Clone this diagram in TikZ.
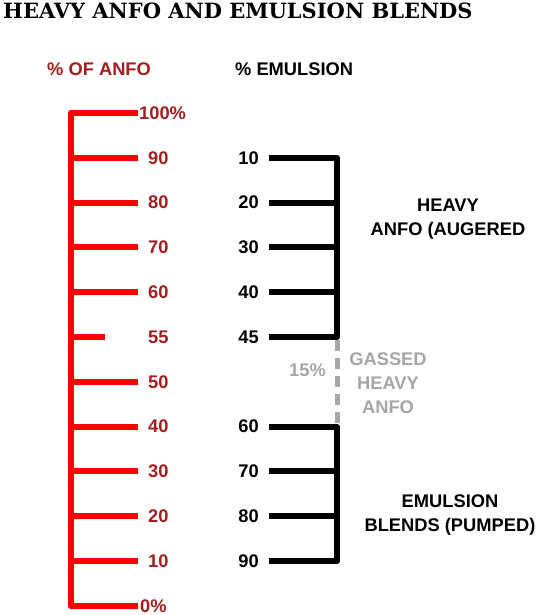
\documentclass[tikz,border=0pt]{standalone}
\usepackage{fontspec}
\setmainfont{Liberation Sans}
\newfontfamily\titlefont{DejaVu Serif}
\usepackage{xcolor}
\usetikzlibrary{positioning, calc}
\definecolor{scalered}{rgb}{1, 0, 0}
\definecolor{labelred}{rgb}{0.63, 0.12, 0.12}
\definecolor{gassedgray}{rgb}{0.65, 0.65, 0.65}
\tikzset{
  scaletext/.style={inner sep=0pt, font=\fontsize{18.3}{24}\selectfont\bfseries},
  anfotext/.style={scaletext, text=labelred},
  emultext/.style={scaletext, text=black},
  gastext/.style={scaletext, text=gassedgray},
  redbar/.style={draw=scalered, line width=6pt, line join=round},
  blackbar/.style={draw=black, line width=6pt, line join=round},
  gasbar/.style={draw=gassedgray, line width=5pt, dash pattern=on 11pt off 7pt}
}

\begin{document}
\begin{tikzpicture}[x=1pt, y=-1pt]
\useasboundingbox (0,0) rectangle (542,615);
\pgfmathsetmacro{\redx}{70.5}
\pgfmathsetmacro{\redend}{137.5}
\pgfmathsetmacro{\blackx}{337}
\pgfmathsetmacro{\blackend}{269}
\pgfmathsetmacro{\tickgap}{44.8}
\pgfmathsetmacro{\ytop}{113}

\node[inner sep=0pt, anchor=west, font=\titlefont\fontsize{21}{22}\selectfont\bfseries] (title) at (3,11) {HEAVY ANFO AND EMULSION BLENDS};
\node[anfotext, anchor=west] (anfohead) at (47,69) {\% OF ANFO};
\node[emultext, anchor=west] (emulhead) at (235,69) {\% EMULSION};

%% red scale, one tick per step
\foreach \i in {0,...,11} {
  \coordinate (r\i) at (\redx, \ytop+\tickgap*\i);
  \coordinate (rt\i) at (\redend, \ytop+\tickgap*\i);
}
\draw[redbar] (rt0) -- (r0) -- (r11) -- (rt11);
\foreach \i in {1,2,3,4,6,7,8,9,10} {
  \draw[redbar] (r\i) -- (rt\i);
}
\draw[redbar] (r5) -- ++(34,0);

\node[anfotext, anchor=west] (anfo100) at ($(rt0)+(1.5,0)$) {100\%};
\foreach \i/\v in {1/90,2/80,3/70,4/60,5/55,6/50,7/40,8/30,9/20,10/10} {
  \node[anfotext, anchor=west] (anfo\v) at ($(rt\i)+(10.5,0)$) {\v};
}
\node[anfotext, anchor=west] (anfo0) at ($(rt11)+(2.5,0)$) {0\%};

%% black scale, heavy anfo part and emulsion part
\foreach \i in {1,...,10} {
  \coordinate (b\i) at (\blackx, \ytop+\tickgap*\i);
  \coordinate (bt\i) at (\blackend, \ytop+\tickgap*\i);
}
\draw[blackbar] (bt1) -- (b1) -- (b5) -- (bt5);
\foreach \i in {2,3,4} {
  \draw[blackbar] (b\i) -- (bt\i);
}
\draw[blackbar] (bt7) -- (b7) -- (b10) -- (bt10);
\foreach \i in {8,9} {
  \draw[blackbar] (b\i) -- (bt\i);
}
\foreach \i/\v in {1/10,2/20,3/30,4/40,5/45,7/60,8/70,9/80,10/90} {
  \node[emultext, anchor=east] (emul\v) at ($(bt\i)+(-10,0)$) {\v};
}

%% gassed heavy anfo gap
\draw[gasbar] ($(b5)+(0,3)$) -- (b7);
\node[gastext, anchor=east] (gaspct) at (326,370) {15\%};
\node[gastext, align=center] (gasname) at (388,383) {GASSED\\HEAVY\\ANFO};

\node[emultext, align=center] (heavyanfo) at (448,219) {HEAVY\\ANFO (AUGERED};
\node[emultext, align=center] (emulblend) at (450,515) {EMULSION\\BLENDS (PUMPED)};
\end{tikzpicture}
\end{document}
